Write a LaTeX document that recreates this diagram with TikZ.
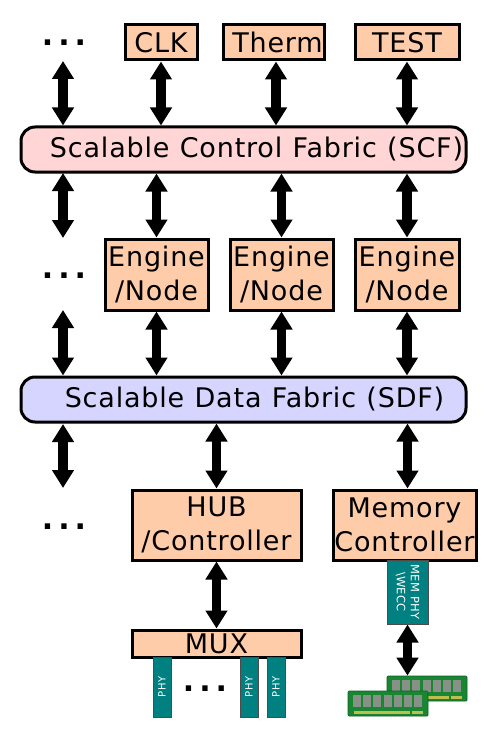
\documentclass[tikz,border=0pt]{standalone}
\usepackage{fontspec}
\setmainfont[LetterSpace=3,WordSpace=1.1]{DejaVu Sans}
\usetikzlibrary{arrows.meta}
\newcommand{\dotrow}{\bfseries .\kern5pt.\kern5pt.}
\begin{document}
\begin{tikzpicture}[x=1pt,y=-1pt,
    blockbox/.style={draw=black, line width=3pt, fill=block, inner sep=0pt, align=center, font=\fontsize{27}{34}\selectfont},
    fabricbox/.style={draw=black, line width=3pt, rounded corners=14pt, inner sep=0pt, minimum width=445pt, minimum height=45pt, font=\fontsize{27}{34}\selectfont},
    phybox/.style={draw=black!70, line width=1pt, fill=phy, text=white, inner sep=0pt, rotate=90, minimum width=60pt, minimum height=18pt, font=\fontsize{10}{11}\selectfont},
    dotsnode/.style={inner sep=0pt, font=\fontsize{30}{30}\selectfont},
    link/.style={line width=9.5pt, {Triangle[width=21pt,length=18pt]}-{Triangle[width=21pt,length=18pt]}},
    ramstick/.style={fill=ramgreen, draw=ramgreen!70!black, line width=0.7pt, rounded corners=1pt, minimum width=80pt, minimum height=25pt, inner sep=0pt}]
    % Define colors
    \definecolor{block}{RGB}{255, 204, 170}
    \definecolor{control}{RGB}{255, 213, 213}
    \definecolor{data}{RGB}{213, 213, 255}
    \definecolor{phy}{RGB}{0, 128, 128}
    \definecolor{ramgreen}{RGB}{25, 135, 50}
    \definecolor{ramchip}{RGB}{135, 145, 135}
    \definecolor{ramgold}{RGB}{190, 190, 80}

    % Page size
    \useasboundingbox (0,0) rectangle (500,741);

    % Top row
    \node[dotsnode] (dotsa) at (64,43) {\dotrow};
    \node[blockbox, minimum width=72pt, minimum height=35pt] (clk) at (161,42.5) {CLK};
    \node[blockbox, minimum width=101pt, minimum height=35pt] (therm) at (273.5,42.5) {\hspace*{8pt}Therm};
    \node[blockbox, minimum width=104pt, minimum height=35pt] (test) at (407,42.5) {TEST};

    % Fabrics
    \node[fabricbox, fill=control] (scf) at (243.5,149.5) {\hspace*{26pt}Scalable Control Fabric (SCF)};
    \node[fabricbox, fill=data] (sdf) at (243.5,399.5) {\hspace*{22pt}Scalable Data Fabric (SDF)};

    % Engines
    \node[dotsnode] (dotsb) at (64,276) {\dotrow};
    \node[blockbox, minimum width=103pt, minimum height=71pt] (enga) at (156.5,274.5) {Engine\\/Node};
    \node[blockbox, minimum width=103pt, minimum height=71pt] (engb) at (281.5,274.5) {Engine\\/Node};
    \node[blockbox, minimum width=104pt, minimum height=71pt] (engc) at (407,274.5) {Engine\\/Node};

    % Controllers
    \node[dotsnode] (dotsc) at (64,527) {\dotrow};
    \node[blockbox, minimum width=169pt, minimum height=70pt] (hub) at (216.5,525) {HUB\\/Controller};
    \node[blockbox, minimum width=143pt, minimum height=70pt] (mem) at (404.5,525) {Memory\\Controller};
    \node[phybox, minimum width=64pt, minimum height=41pt, font=\fontsize{11.5}{14}\selectfont, rotate=-180, align=center] (memphy) at (407.5,592) {MEM PHY\\\textbackslash WECC};

    % MUX and PHYs
    \node[blockbox, minimum width=169pt, minimum height=27pt] (mux) at (216.5,643.5) {MUX};
    \node[phybox] (phya) at (162,687) {PHY};
    \node[phybox] (phyb) at (249,687) {PHY};
    \node[phybox] (phyc) at (276,687) {PHY};
    \node[dotsnode] (dotsd) at (205,689) {\dotrow};

    % Memory sticks
    \foreach \name/\cx/\cy in {ramb/427/688.5, rama/388/703.5} {
        \node[ramstick] (\name) at (\cx,\cy) {};
        \foreach \i in {0,...,6}
            \fill[ramchip] (\cx-35+\i*10.2,\cy-8.5) rectangle +(8,12);
        \fill[ramgold] (\cx-34,\cy+7.5) rectangle +(56,3);
        \fill[ramgold] (\cx+24,\cy+7.5) rectangle +(11,3);
    }

    % Free ends of the left column
    \coordinate (la) at (63,61);
    \coordinate (lb) at (63,173);
    \coordinate (lc) at (63,238);
    \coordinate (ld) at (63,310);
    \coordinate (le) at (63,424);
    \coordinate (lf) at (63,488);

    % Links
    \draw[link] (la) -- (la |- scf.north);
    \draw[link] (lb) -- (lc);
    \draw[link] (ld) -- (ld |- sdf.north);
    \draw[link] (le) -- (lf);

    \draw[link] (clk.south) -- (clk.south |- scf.north);
    \draw[link] ([xshift=2.5pt]therm.south) -- ([xshift=2.5pt]therm.south |- scf.north);
    \draw[link] (test.south) -- (test.south |- scf.north);

    \draw[link] (enga.north |- scf.south) -- (enga.north);
    \draw[link] (engb.north |- scf.south) -- (engb.north);
    \draw[link] (engc.north |- scf.south) -- (engc.north);

    \draw[link] (enga.south) -- (enga.south |- sdf.north);
    \draw[link] (engb.south) -- (engb.south |- sdf.north);
    \draw[link] (engc.south) -- (engc.south |- sdf.north);

    \draw[link] (hub.north |- sdf.south) -- (hub.north);
    \draw[link] (memphy.center |- sdf.south) -- (memphy.center |- mem.north);
    \draw[link] (hub.south) -- (mux.north);
    \draw[link] (memphy.east) -- (memphy.center |- ramb.north);
\end{tikzpicture}
\end{document}
